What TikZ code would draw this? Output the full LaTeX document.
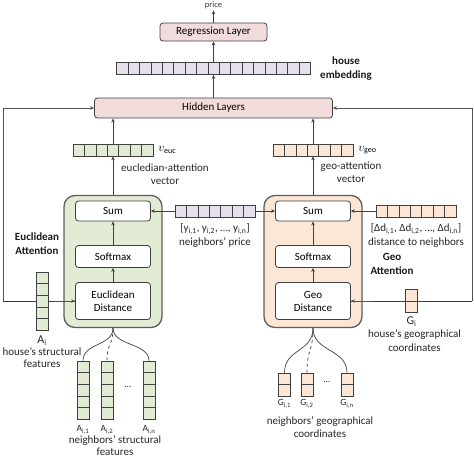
\documentclass[tikz,border=0pt]{standalone}
\usepackage{amsmath}
\usepackage{fontspec}
\setmainfont{Carlito}
\usetikzlibrary{arrows.meta,positioning,calc}
\definecolor{edge}{RGB}{64,64,64}
\definecolor{eucfill}{RGB}{226,235,212}
\definecolor{geofill}{RGB}{252,230,214}
\definecolor{regfill}{RGB}{242,220,219}
\definecolor{embfill}{RGB}{230,224,236}

\begin{document}
\begin{tikzpicture}[
    x=1pt, y=-1pt,
    node distance=2pt,
    layer/.style={rectangle, rounded corners=3pt, draw=edge, fill=regfill, line width=0.8pt, font=\fontsize{11}{13}\selectfont},
    op/.style={rectangle, rounded corners=3pt, draw=edge, fill=white, line width=0.8pt, minimum width=75pt, align=center, font=\fontsize{11}{13}\selectfont},
    attn/.style={rectangle, rounded corners=11pt, draw=edge!85, line width=1.3pt, minimum width=98pt, minimum height=132pt},
    hvec/.style={rectangle, draw=edge, line width=0.6pt, inner sep=0pt, minimum height=12pt, minimum width=#1*11.4pt,
        path picture={\foreach \k in {1,...,#1}
            \draw[edge, line width=0.6pt] ($(path picture bounding box.south west)!\k/#1!(path picture bounding box.south east)$)
                -- ($(path picture bounding box.north west)!\k/#1!(path picture bounding box.north east)$);}},
    vvec/.style={rectangle, draw=edge, line width=0.6pt, inner sep=0pt, minimum width=12pt, minimum height=#1*11.6pt,
        path picture={\foreach \k in {1,...,#1}
            \draw[edge, line width=0.6pt] ($(path picture bounding box.north west)!\k/#1!(path picture bounding box.south west)$)
                -- ($(path picture bounding box.north east)!\k/#1!(path picture bounding box.south east)$);}},
    lbl/.style={align=center, text=black!85, inner sep=1pt, font=\fontsize{11}{13.5}\selectfont},
    sub/.style={text=black!85, inner sep=1pt, font=\fontsize{9.5}{10}\selectfont},
    head/.style={align=center, text=black!90, font=\fontsize{11}{14}\selectfont\bfseries},
    arr/.style={-{Stealth[length=4pt, width=3.5pt]}, draw=edge, line width=0.7pt},
    feed/.style={-{Stealth[length=4pt, width=3.5pt]}, draw=edge!90, line width=0.9pt},
    link/.style={draw=edge, line width=0.7pt},
]
    \useasboundingbox (0,0) rectangle (474,459);

    % output part
    \node[layer, minimum width=107pt, minimum height=18pt] (reg) at (213.5,32) {Regression Layer};
    \node[text=black!80, inner sep=1pt, font=\fontsize{8.5}{9}\selectfont] (price) at (213.5,5.5) {price};
    \node[hvec=17, fill=embfill] (emb) at (213.5,68.5) {};
    \node[head, right=6pt of emb] (embl) {house\\embedding};
    \node[layer, minimum width=238pt, minimum height=20pt] (hidden) at (213.5,108) {Hidden Layers};

    \draw[arr] (reg) -- (price);
    \draw[arr] (emb) -- (reg);
    \draw[arr] (hidden) -- (emb);

    % attention vectors
    \node[hvec=7, fill=eucfill] (veuc) at (113,150) {};
    \node[right=4pt of veuc, inner sep=1pt, font=\fontsize{12}{12}\selectfont] (veucl) {$v_{\text{euc}}$};
    \node[lbl] (veuct) at (165,174) {eucledian-attention\\vector};
    \node[hvec=7, fill=geofill] (vgeo) at (313,150) {};
    \node[right=4pt of vgeo, inner sep=1pt, font=\fontsize{12}{12}\selectfont] (vgeol) {$v_{\text{geo}}$};
    \node[lbl] (vgeot) at (351,172) {geo-attention\\vector};

    \draw[arr] (veuc.north) -- (veuc.north |- hidden.south);
    \draw[arr] (vgeo.north) -- (vgeo.north |- hidden.south);

    % euclidean attention
    \node[attn, fill=eucfill] (eucbox) at (113,261.5) {};
    \node[op, minimum height=20pt] (eucsum) at (113,211) {Sum};
    \node[op, minimum height=22pt] (eucsoft) at (113,256.5) {Softmax};
    \node[op, minimum height=37pt] (eucdist) at (113,301) {Euclidean\\Distance};
    \node[head] (euct) at (37,244) {Euclidean\\Attention};

    % geo attention
    \node[attn, fill=geofill] (geobox) at (313,261.5) {};
    \node[op, minimum height=20pt] (geosum) at (313,211) {Sum};
    \node[op, minimum height=22pt] (geosoft) at (313,256.5) {Softmax};
    \node[op, minimum height=37pt] (geodist) at (313,301) {Geo\\Distance};
    \node[head] (geot) at (392,264) {Geo\\Attention};

    \draw[arr] (eucbox.north) -- (veuc.south);
    \draw[arr] (geobox.north) -- (vgeo.south);
    \draw[arr] (eucdist) -- (eucsoft);
    \draw[arr] (eucsoft) -- (eucsum);
    \draw[arr] (geodist) -- (geosoft);
    \draw[arr] (geosoft) -- (geosum);

    % neighbors' price and distances
    \node[hvec=7, fill=embfill] (nprice) at (215,211) {};
    \node[lbl, below=5pt of nprice, font=\fontsize{11}{14.5}\selectfont] (npricel) {[y\textsubscript{i,1}, y\textsubscript{i,2}, …, y\textsubscript{i,n}]\\neighbors’ price};
    \node[hvec=7, fill=geofill] (ndist) at (416,211) {};
    \node[lbl, below=5pt of ndist, font=\fontsize{11}{14}\selectfont] (ndistl) {[Δd\textsubscript{i,1}, Δd\textsubscript{i,2}, …, Δd\textsubscript{i,n}]\\distance to neighbors};

    \draw[arr] (nprice) -- (eucsum);
    \draw[arr] (nprice) -- (geosum);
    \draw[arr] (ndist) -- (geosum);

    % the house itself
    \coordinate (lft) at (3,301);
    \coordinate (rgt) at (472,301);
    \draw[feed] (lft) |- (hidden.west);
    \draw[feed] (rgt) |- (hidden.east);
    \draw[link] (lft) -- (eucdist.west);
    \draw[feed] (lft -| eucdist.west) ++(-20,0) -- (eucdist.west);
    \draw[link] (rgt) -- (geodist.east);
    \draw[feed] (rgt -| geodist.east) ++(20,0) -- (geodist.east);
    \node[vvec=5, fill=eucfill] (Ai) at (42,301) {};
    \node[sub, below=4pt of Ai, font=\fontsize{12}{12}\selectfont] (Ail) {A\textsubscript{i}};
    \node[lbl, below=0pt of Ail, font=\fontsize{11}{12.5}\selectfont] (Ait) {house’s structural\\features};
    \node[vvec=2, fill=geofill] (Gi) at (411.5,301) {};
    \node[sub, below=3pt of Gi, font=\fontsize{12}{12}\selectfont] (Gil) {G\textsubscript{i}};
    \node[lbl, below=1pt of Gil, xshift=3pt] (Git) {house’s geographical\\coordinates};

    % neighbors' features
    \node[vvec=5, fill=eucfill] (A1) at (83,390) {};
    \node[vvec=5, fill=eucfill] (A2) at (107,390) {};
    \node[vvec=5, fill=eucfill] (An) at (149,390) {};
    \node[sub] (Adots) at (128,387) {…};
    \node[sub, below=5pt of A1] (A1l) {A\textsubscript{i,1}};
    \node[sub, below=5pt of A2] (A2l) {A\textsubscript{i,2}};
    \node[sub, below=5pt of An] (Anl) {A\textsubscript{i,n}};
    \node[lbl, font=\fontsize{11}{12}\selectfont] (Anbt) at (115,446) {neighbors’ structural\\features};

    \node[vvec=2, fill=geofill] (G1) at (284.5,384.5) {};
    \node[vvec=2, fill=geofill] (G2) at (307,384.5) {};
    \node[vvec=2, fill=geofill] (Gn) at (347,384.5) {};
    \node[sub] (Gdots) at (327,382) {…};
    \node[sub, below=2pt of G1] (G1l) {G\textsubscript{i,1}};
    \node[sub, below=2pt of G2] (G2l) {G\textsubscript{i,2}};
    \node[sub, below=2pt of Gn] (Gnl) {G\textsubscript{i,n}};
    \node[lbl] (Gnbt) at (320,427) {neighbors’ geographical\\coordinates};

    \draw[link] (eucbox.south) .. controls +(0,18) and +(0,-18) .. (A1.north);
    \draw[link, dashed] (eucbox.south) .. controls +(0,18) and +(0,-18) .. (A2.north);
    \draw[link] (eucbox.south) .. controls +(0,18) and +(0,-18) .. (An.north);
    \draw[link] (geobox.south) .. controls +(0,24) and +(0,-24) .. (G1.north);
    \draw[link, dashed] (geobox.south) .. controls +(0,24) and +(0,-24) .. (G2.north);
    \draw[link] (geobox.south) .. controls +(0,24) and +(0,-24) .. (Gn.north);
\end{tikzpicture}
\end{document}
